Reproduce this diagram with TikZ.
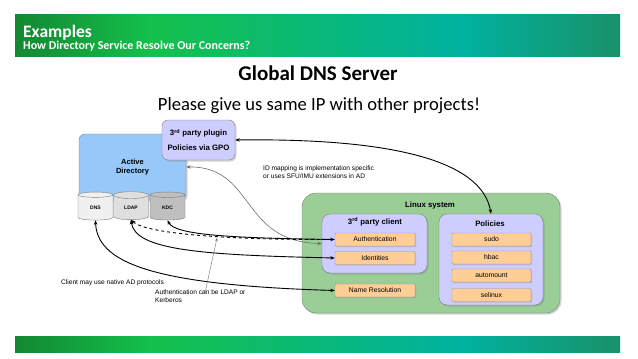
\documentclass[tikz,border=0pt]{standalone}
\usepackage{fontspec}
\setmainfont{Carlito}
\newfontfamily\diafont{Liberation Sans}
\usetikzlibrary{positioning, arrows.meta, shapes.geometric, shadows}

\definecolor{bardark}{RGB}{20,135,50}
\definecolor{barlight}{RGB}{20,192,75}
\definecolor{barteal}{RGB}{0,178,160}
\definecolor{barend}{RGB}{25,145,105}
\definecolor{adblue}{RGB}{150,200,250}
\definecolor{lavender}{RGB}{205,205,255}
\definecolor{linuxgreen}{RGB}{155,205,150}
\definecolor{boxorange}{RGB}{255,205,150}
\definecolor{edgegray}{RGB}{125,125,125}
\definecolor{notegray}{RGB}{110,110,110}

\begin{document}
\begin{tikzpicture}[x=1pt, y=-1pt,
    panel/.style={draw=edgegray, rounded corners=6pt,
                  drop shadow={shadow xshift=1.5pt, shadow yshift=-1.5pt, opacity=0.35}},
    item/.style={draw=edgegray!80, fill=boxorange, rounded corners=1pt,
                 minimum height=13pt, inner sep=0pt,
                 drop shadow={shadow xshift=1pt, shadow yshift=-1pt, opacity=0.3},
                 font=\diafont\fontsize{6.8}{8}\selectfont},
    head/.style={font=\diafont\bfseries\fontsize{7.8}{9}\selectfont, inner sep=0pt},
    disk/.style={cylinder, shape border rotate=90, aspect=0.5, draw=edgegray,
                 minimum width=35pt, minimum height=28pt, inner sep=0pt,
                 font=\diafont\bfseries\fontsize{5}{6}\selectfont},
    note/.style={font=\diafont\fontsize{6.6}{8}\selectfont, align=left, inner sep=0pt},
    both/.style={{Stealth[length=4.5pt, width=3.5pt]}-{Stealth[length=4.5pt, width=3.5pt]},
                 line width=0.9pt},
    back/.style={{Stealth[length=4.5pt, width=3.5pt]}-, line width=0.9pt},
  ]
    \useasboundingbox (0,0) rectangle (638,359);

    %% banner and footer bars
    \shade[left color=bardark, right color=barlight] (15,14) rectangle (150.5,56);
    \shade[left color=barlight, right color=barteal] (150,14) rectangle (460.5,56);
    \shade[left color=barteal, right color=barend] (460,14) rectangle (620,56);
    \shade[left color=bardark, right color=barlight] (15,336) rectangle (150.5,352);
    \shade[left color=barlight, right color=barteal] (150,336) rectangle (460.5,352);
    \shade[left color=barteal, right color=barend] (460,336) rectangle (620,352);

    \node[anchor=base west, inner sep=0pt, text=white,
          font=\bfseries\fontsize{17.5}{20}\selectfont] (sect) at (23,37) {Examples};
    \node[anchor=base west, inner sep=0pt, text=white,
          font=\bfseries\fontsize{12}{14}\selectfont] (subsect) at (23,49)
      {How Directory Service Resolve Our Concerns?};

    \node[anchor=base, inner sep=0pt, font=\bfseries\fontsize{21}{24}\selectfont]
      (title) at (318,80) {Global DNS Server};
    \node[anchor=base, inner sep=0pt, font=\fontsize{18.6}{22}\selectfont]
      (question) at (319,110) {Please give us same IP with other projects!};

    %% Active Directory side
    \node[panel, fill=adblue, minimum width=107pt, minimum height=66pt, align=center,
          font=\diafont\bfseries\fontsize{7.5}{9}\selectfont] (ad) at (132.5,167)
      {Active\\Directory};
    \node[panel, fill=lavender, minimum width=73pt, minimum height=40pt, align=center,
          font=\diafont\bfseries\fontsize{7.8}{9}\selectfont] (plugin) at (198.5,140)
      {3\textsuperscript{rd} party plugin\\[6pt]Policies via GPO};

    \node[disk, fill=gray!12] (dns)  at (95.5,207.5) {DNS};
    \node[disk, fill=gray!25] (ldap) at (131,207.5)  {LDAP};
    \node[disk, fill=gray!50] (kdc)  at (167.5,207.5) {KDC};

    %% Linux side
    \node[panel, fill=linuxgreen, rounded corners=14pt,
          minimum width=258pt, minimum height=120pt] (linux) at (431,253) {};
    \node[head] (linuxlbl) at (430,205) {Linux system};

    \node[panel, fill=lavender, rounded corners=8pt,
          minimum width=105pt, minimum height=59pt] (client) at (374.5,243.5) {};
    \node[head] (clientlbl) at (375,222) {3\textsuperscript{rd} party client};
    \node[item, minimum width=80pt] (auth)    at (375,239.5) {Authentication};
    \node[item, minimum width=80pt] (ident)   at (375,258)   {Identities};
    \node[item, minimum width=80pt] (nameres) at (375,290.5) {Name Resolution};

    \node[panel, fill=lavender, rounded corners=8pt,
          minimum width=104pt, minimum height=91pt] (policies) at (491,259.5) {};
    \node[head] (policieslbl) at (490,224) {Policies};
    \node[item, minimum width=79pt] (sudo)      at (491.5,239.5) {sudo};
    \node[item, minimum width=79pt] (hbac)      at (491.5,257.5) {hbac};
    \node[item, minimum width=79pt] (automount) at (491.5,275.5) {automount};
    \node[item, minimum width=79pt] (selinux)   at (491.5,295)   {selinux};

    %% notes
    \node[note, anchor=base west] (idnote) at (263,178)
      {ID mapping is implementation specific\\or uses SFU/IMU extensions in AD};
    \node[note, anchor=base west] (nativenote) at (61,284)
      {Client may use native AD protocols};
    \node[note, anchor=base west] (authnote) at (155,302)
      {Authentication can be LDAP or\\Kerberos};

    %% connectors
    \draw[both] (plugin.east) .. controls (390,138) and (482,160) .. (policies.north);
    \draw[both, line width=0.6pt, draw=notegray] (ad.east)
      .. controls (255,166) and (240,242) .. (client.west);
    \draw[both] (kdc.south) .. controls (175,235) and (230,238) .. (auth.west);
    \draw[back, dashed] (ldap.south) .. controls (145,233) and (220,240) .. (auth.west);
    \draw[both] (ldap.south) .. controls (135,250) and (200,255) .. (ident.west);
    \draw[both] (dns.south) .. controls (97,262) and (150,285) .. (nameres.west);

    \coordinate (dashpt) at (217,238);
    \draw[-{Stealth[length=3pt, width=2.5pt]}, draw=notegray, line width=0.4pt]
      (205,293) -- (dashpt);
  \end{tikzpicture}
\end{document}
